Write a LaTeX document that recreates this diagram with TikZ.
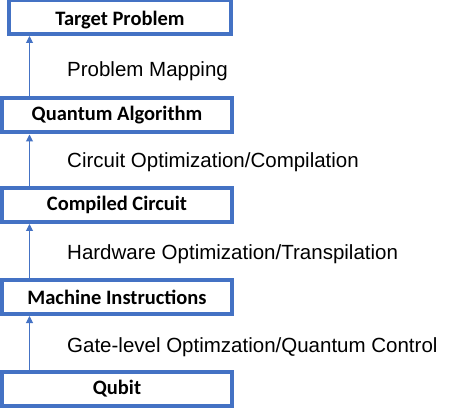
\documentclass[tikz,border=0pt]{standalone}
\usepackage{fontspec}
\setmainfont{Liberation Sans}
\newfontfamily\boxfont{Carlito}
\usetikzlibrary{arrows.meta}
\definecolor{boxblue}{HTML}{4472C4}
\tikzset{
  stepbox/.style={draw=boxblue, line width=4pt, fill=white, inner sep=0pt,
    minimum height=34pt, font=\boxfont\bfseries\fontsize{20.5}{24}\selectfont},
  boxtext/.style={inner sep=0pt, font=\boxfont\bfseries\fontsize{20.5}{24}\selectfont},
  arr/.style={draw=boxblue, line width=1pt, -{Triangle[width=7pt,length=7pt]}},
  lab/.style={anchor=base west, inner sep=0pt, font=\fontsize{20.5}{24}\selectfont}
}
\begin{document}
\begin{tikzpicture}[x=1pt,y=-1pt]
\useasboundingbox (0,0) rectangle (474,414);
\node[stepbox, minimum width=222pt] (tp) at (120,17) {};
\node[boxtext] (tpt) at (120,20) {Target Problem};
\node[stepbox, minimum width=230pt] (qa) at (117,115.5) {Quantum Algorithm};
\node[stepbox, minimum width=230pt] (cc) at (117,205) {Compiled Circuit};
\node[stepbox, minimum width=230pt] (mi) at (117,297) {Machine Instructions};
\node[stepbox, minimum width=230pt] (qb) at (117,389) {Qubit};
\coordinate (ax) at (29.5,0);
\draw[arr] (qa.north -| ax) -- (tp.south -| ax);
\draw[arr] (cc.north -| ax) -- (qa.south -| ax);
\draw[arr] (mi.north -| ax) -- (cc.south -| ax);
\draw[arr] (qb.north -| ax) -- (mi.south -| ax);
\node[lab] (l1) at (67,77) {Problem Mapping};
\node[lab] (l2) at (67,168) {Circuit Optimization/Compilation};
\node[lab] (l3) at (67,260) {Hardware Optimization/Transpilation};
\node[lab] (l4) at (67,352) {Gate-level Optimzation/Quantum Control};
\end{tikzpicture}
\end{document}
